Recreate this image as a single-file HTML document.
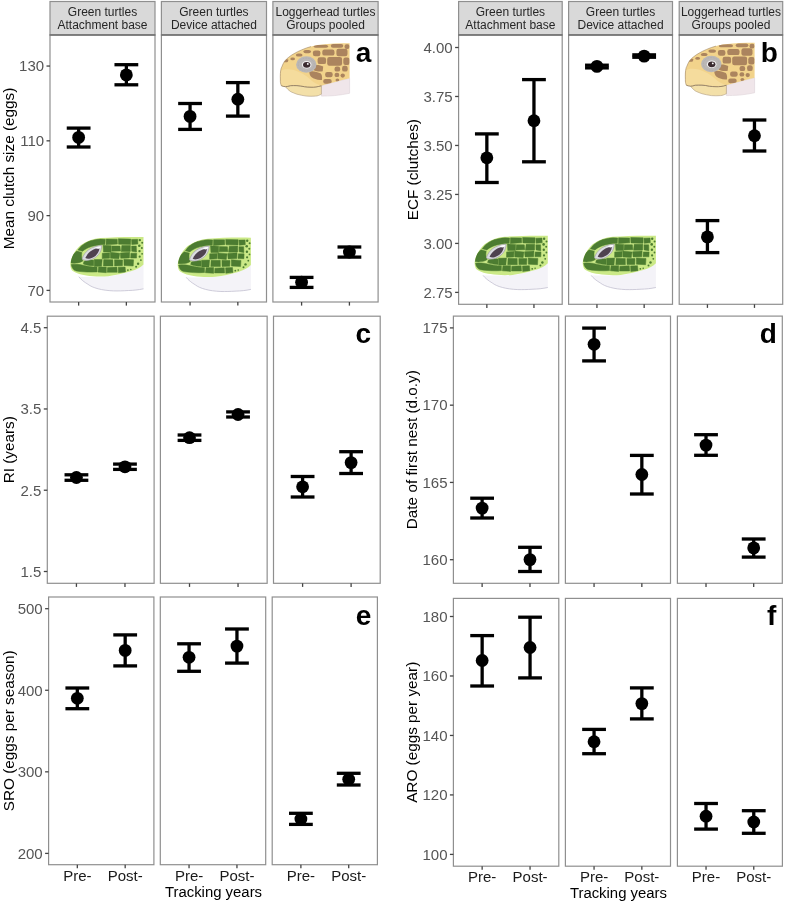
<!DOCTYPE html>
<html><head><meta charset="utf-8"><title>Turtle reproductive output</title>
<style>html,body{margin:0;padding:0;background:#fff;}body{width:785px;height:904px;overflow:hidden;}svg{display:block;}text{font-family:'Liberation Sans', Arial, Helvetica, sans-serif;}</style></head><body>
<svg width="785" height="904" viewBox="0 0 785 904">
<defs>
<clipPath id="gclip"><path d="M0,27.4 C0.6,21 4,14.5 10,9 C16,4.5 23,2.3 30,1.6 C42,0.7 58,0.3 73.2,0.6 L73.2,28 C70,31 66,33.5 60.5,34.8 C53,37 45,38.8 38,39.7 C30,40.3 22,39.9 16,38.9 C9,37.8 4,36.2 1.4,33.5 C0.3,31.5 0,29.5 0,27.4 Z"/></clipPath>
<clipPath id="lclip"><path d="M0.5,30.4 C0.8,26.5 1.2,25 1.9,23.8 C2.8,21.5 3.6,19.8 4.7,18.1 C6,16.6 7,15.5 8.5,14.4 C10.5,12.8 12,11.7 14.1,10.6 C16.5,9.2 19,7.9 21.7,6.8 C25,5.4 28,4.3 31.1,3.5 C34,2.6 37,2 40.5,1.6 C45,1 50,0.6 54.6,0.4 C60,0.2 65,0.2 69.7,0.2 L69.7,35.1 C60,37.5 50,40 41.5,42.6 C38,43.8 34,44.3 31.1,44.1 C28.5,44 26.5,43.9 24.5,43.6 C22,43.1 19.5,42.6 17,42.5 C14.5,42.4 12.5,42.5 10.4,42.6 C8.5,43 7,43.7 5.6,43.6 C4,43.5 2.6,43.2 1.4,42.6 C0.6,40.5 0.4,39 0.5,37 C0.4,34.5 0.4,32.5 0.5,30.4 Z"/></clipPath>
<symbol id="green" viewBox="0 0 75 56" width="75" height="56" overflow="visible">
<path d="M8.5,40.2 C20,40.6 34,40.6 44,39 C54,37.3 64,33.5 73.2,27.4 L73.2,52.3 C68,53.4 63,53.9 58.4,54 C52,54.4 48,54.5 43.2,54.4 C37,54.1 32,53.4 27.9,52.3 C23,51 20,49.6 17.7,47.8 C14,45.6 10.5,43 8.5,40.2 Z" fill="#f4f3f8"/>
<path d="M8.5,40.2 C10.5,43 14,45.6 17.7,47.8 C20,49.6 23,51 27.9,52.3 C32,53.4 37,54.1 43.2,54.4 C48,54.5 52,54.4 58.4,54 C63,53.9 68,53.4 73.2,52.3" fill="none" stroke="#c3c0d0" stroke-width="0.8"/>
<path d="M0,27.4 C0.6,21 4,14.5 10,9 C16,4.5 23,2.3 30,1.6 C42,0.7 58,0.3 73.2,0.6 L73.2,28 C70,31 66,33.5 60.5,34.8 C53,37 45,38.8 38,39.7 C30,40.3 22,39.9 16,38.9 C9,37.8 4,36.2 1.4,33.5 C0.3,31.5 0,29.5 0,27.4 Z" fill="#cbe987"/>
<g clip-path="url(#gclip)" fill="#4c7c31" stroke="#4c7c31" stroke-width="0.5" stroke-linejoin="round">
<path d="M0.6,26.4 C0.8,21 3,17 6.5,14.6 L11.6,16 C11,19 11.2,22 12.6,24.4 C10,26.2 5,27.2 0.6,26.4 Z"/>
<path d="M7.6,13.6 C9.6,10.4 13,7.5 17,5.5 C21,3.8 26,2.8 30.5,2.6 L35,2.8 L34.6,8 C29,8.3 23,9.2 18.5,11 C15.5,12.3 13.5,13.6 12.2,14.8 Z"/>
<path d="M0.9,28 C5,27.4 10,27.9 14,29 C17,29.9 21,30.4 26.8,30.6 L26.8,35.4 C20,35.9 12,35.5 6,34.5 C3.2,33.7 1.6,31.8 0.9,28 Z"/>
<path d="M13.6,25 C17,23.6 20.5,23.4 23.4,23.8 L23.4,29.2 C19.5,29.3 16,28.7 13,27.4 Z"/>
<path d="M35.9,2.6 L46.9,2.7 L47.1,7.6 L35.7,8.3 Z"/>
<path d="M48.0,2.3 L60.5,2.6 L60.3,8.0 L48.3,7.7 Z"/>
<path d="M61.3,3.0 L67.4,2.8 L67.6,7.6 L61.5,8.1 Z"/>
<path d="M32.8,8.7 L41.0,9.2 L40.8,15.4 L33.2,15.4 Z"/>
<path d="M41.7,9.5 L49.7,9.6 L50.2,14.6 L41.4,14.7 Z"/>
<path d="M51.5,9.1 L60.1,9.0 L60.0,14.9 L50.9,15.1 Z"/>
<path d="M61.3,9.6 L66.0,9.6 L66.2,15.5 L61.4,14.7 Z"/>
<path d="M32.0,16.7 L39.4,16.3 L39.2,21.7 L31.9,22.1 Z"/>
<path d="M40.0,15.8 L49.4,16.7 L48.6,22.3 L40.1,21.7 Z"/>
<path d="M50.0,16.5 L59.4,15.7 L59.1,21.5 L50.4,21.8 Z"/>
<path d="M60.6,16.7 L66.4,16.7 L66.2,21.6 L60.3,21.5 Z"/>
<path d="M23.9,23.1 L31.9,22.9 L31.3,29.8 L24.0,29.9 Z"/>
<path d="M33.4,23.1 L42.6,23.2 L42.7,29.5 L33.1,29.5 Z"/>
<path d="M44.2,23.2 L52.3,23.4 L52.1,29.2 L44.3,29.4 Z"/>
<path d="M53.6,22.7 L63.3,23.3 L62.9,29.5 L53.7,29.0 Z"/>
<path d="M28.3,30.6 L36.0,30.5 L36.0,36.2 L27.7,35.6 Z"/>
<path d="M37.2,31.1 L46.6,30.6 L46.9,35.8 L36.9,35.8 Z"/>
<path d="M47.9,30.7 L54.8,30.5 L55.3,35.5 L48.1,36.2 Z"/>
</g>
<g fill="#4c7c31">
<circle cx="69.5" cy="3.6" r="1.2"/><circle cx="71.9" cy="6.2" r="1"/><circle cx="69" cy="9.2" r="1.3"/>
<circle cx="71.6" cy="11.6" r="1"/><circle cx="69.2" cy="14.6" r="1.2"/><circle cx="71.8" cy="17.3" r="0.9"/>
<circle cx="69.4" cy="20.2" r="1.1"/><circle cx="70.6" cy="23.6" r="0.9"/><circle cx="67.8" cy="27.3" r="1.2"/>
<circle cx="65.8" cy="30.2" r="1"/><circle cx="57.6" cy="33.6" r="0.9"/><circle cx="60.5" cy="33" r="0.8"/>
</g>
<path d="M11.8,22.6 C14,15 21,9.5 31.5,9 C31.5,15.5 27,21.5 19,23.6 C16,24.2 13.5,23.8 11.8,22.6 Z" fill="#dcdce2" stroke="#a3a2ad" stroke-width="0.7"/>
<path d="M15,21.6 C17.5,16 22.5,12.2 29.2,11.6 C29,16.2 25.5,20.3 20,22 C18,22.5 16.3,22.3 15,21.6 Z" fill="#4f4250"/>
<path d="M24.6,11.2 C26.5,10.3 28.8,9.9 30.6,9.9 C30.3,11.4 29.1,12.3 27.6,12.3 Z" fill="#fafafc"/>
</symbol>
<symbol id="logger" viewBox="0 0 71 55" width="71" height="55" overflow="visible">
<path d="M41.5,42.6 C50,40 60,37.5 69.7,35.1 L69.7,50.2 C65,51.2 60,52 54.6,52.5 C50,52.8 45,53 41.5,53 Z" fill="#f0e6ea" stroke="#d9ccd3" stroke-width="0.5"/>
<path d="M5.6,43.6 C7,43.7 8.5,43 10.4,42.6 C14,42.3 20,42.4 24.5,43.6 C29,44.3 36,44.2 41.5,42.6 L41.5,51.1 C39,52.3 37.5,52.9 35.8,53 C32.5,53.3 29.5,53.2 26.4,53 C23,52.5 20,51.9 17,51.1 C14,50 12,49.2 10.4,48.3 C8.5,47 7.2,45.6 5.6,43.6 Z" fill="#f3e0a9" stroke="#a8957a" stroke-width="0.55"/>
<path d="M0.5,30.4 C0.8,26.5 1.2,25 1.9,23.8 C2.8,21.5 3.6,19.8 4.7,18.1 C6,16.6 7,15.5 8.5,14.4 C10.5,12.8 12,11.7 14.1,10.6 C16.5,9.2 19,7.9 21.7,6.8 C25,5.4 28,4.3 31.1,3.5 C34,2.6 37,2 40.5,1.6 C45,1 50,0.6 54.6,0.4 C60,0.2 65,0.2 69.7,0.2 L69.7,35.1 C60,37.5 50,40 41.5,42.6 C38,43.8 34,44.3 31.1,44.1 C28.5,44 26.5,43.9 24.5,43.6 C22,43.1 19.5,42.6 17,42.5 C14.5,42.4 12.5,42.5 10.4,42.6 C8.5,43 7,43.7 5.6,43.6 C4,43.5 2.6,43.2 1.4,42.6 C0.6,40.5 0.4,39 0.5,37 C0.4,34.5 0.4,32.5 0.5,30.4 Z" fill="#f2d38b"/>
<path d="M0.6,28 C3,26 8,25.5 14,27 C20,29 26,32 30,36 C33,39 37,41.5 41.5,42.6 C36,44.2 29,44.3 24.5,43.6 C20,42.4 14,42.3 10.4,42.6 C7,43.5 3,43.6 1.4,42.6 C0.5,38 0.4,32 0.6,28 Z" fill="#f5dc9d" clip-path="url(#lclip)"/>
<g clip-path="url(#lclip)" fill="#ab845e">
<rect x="33.9" y="1.6" width="14.2" height="3.0" rx="2.2"/>
<rect x="50.9" y="0.8" width="12.5" height="3.8" rx="2.2"/>
<rect x="64.6" y="1.2" width="5.1" height="4.7" rx="2.2"/>
<rect x="23.5" y="6.8" width="7.6" height="3.3" rx="2.2"/>
<rect x="16.0" y="10.3" width="6.6" height="3.2" rx="2.2"/>
<rect x="10.4" y="14.5" width="4.7" height="2.7" rx="2.2"/>
<rect x="33.0" y="7.3" width="7.5" height="5.9" rx="2.2"/>
<rect x="42.4" y="6.4" width="12.2" height="6.1" rx="2.2"/>
<rect x="56.5" y="5.6" width="11.1" height="7.6" rx="2.2"/>
<rect x="37.7" y="14.1" width="8.5" height="6.9" rx="2.2"/>
<rect x="47.3" y="13.8" width="14.9" height="8.8" rx="2.2"/>
<rect x="63.4" y="14.4" width="6.3" height="7.5" rx="2.2"/>
<rect x="54.6" y="23.4" width="5.7" height="5.1" rx="2.2"/>
<rect x="62.2" y="22.6" width="5.6" height="5.9" rx="2.2"/>
<rect x="45.2" y="28.9" width="7.6" height="5.3" rx="2.2"/>
<rect x="43.3" y="36.0" width="8.5" height="4.6" rx="2.2"/>
<rect x="54.6" y="29.6" width="4.8" height="4.4" rx="2.2"/>
<rect x="60.6" y="30.4" width="4.4" height="4.2" rx="2.2"/>
<rect x="55.6" y="35.3" width="3.8" height="3.3" rx="2.2"/>
<path d="M3.8,16.2 C5.5,15.6 7.5,15.8 8.6,16.6 L7.8,18.8 C6,19.4 4.6,19.2 3.4,18.6 Z"/>
<path d="M33.8,22.2 C37,21.6 41,22 43.3,23.5 L42.8,28.2 C39.5,28.8 36,28.2 33.6,26.8 Z"/>
<path d="M29.4,28.4 C33,27.6 37.5,28.6 41,30.5 C42.3,32.5 42.4,35 42,36.8 C38,37.3 34,36 31.5,34 C30,32.5 29.3,30.5 29.4,28.4 Z"/>
</g>
<path d="M1.4,42.6 C0.6,40.5 0.4,39 0.5,37 C0.4,34.5 0.4,32.5 0.5,30.4 C0.8,26.5 1.2,25 1.9,23.8 C2.8,21.5 3.6,19.8 4.7,18.1 C6,16.6 7,15.5 8.5,14.4 C10.5,12.8 12,11.7 14.1,10.6 C16.5,9.2 19,7.9 21.7,6.8 C25,5.4 28,4.3 31.1,3.5" fill="none" stroke="#a08462" stroke-width="0.6"/>
<path d="M1.4,42.6 C2.6,43.2 4,43.5 5.6,43.6 C7,43.7 8.5,43 10.4,42.6 C12.5,42.5 14.5,42.4 17,42.5 C19.5,42.6 22,43.1 24.5,43.6 C26.5,43.9 28.5,44 31.1,44.1 C34,44.3 38,43.8 41.5,42.6" fill="none" stroke="#7d6b58" stroke-width="0.75"/>
<ellipse cx="26.4" cy="21.4" rx="10.2" ry="8.2" fill="#bab7b6"/>
<ellipse cx="26.4" cy="21.4" rx="8" ry="6.4" fill="none" stroke="#a7a4a6" stroke-width="0.6" stroke-dasharray="0.8 0.8"/>
<ellipse cx="26.8" cy="21.7" rx="4.8" ry="3.8" fill="#f3f1f1"/>
<ellipse cx="26.8" cy="21.7" rx="3.7" ry="2.9" fill="#3a2a2e"/>
<circle cx="27.9" cy="20.8" r="0.95" fill="#ffffff"/>
</symbol>
</defs>

<rect x="0" y="0" width="785" height="904" fill="#ffffff"/>
<rect x="50" y="1.5" width="105" height="33.5" fill="#d9d9d9" stroke="#8f8f8f" stroke-width="1.2"/>
<text x="102.5" y="15.6" font-size="12" fill="#262626" text-anchor="middle">Green turtles</text>
<text x="102.5" y="28.7" font-size="12" fill="#262626" text-anchor="middle">Attachment base</text>
<rect x="50" y="35" width="105" height="267" fill="#ffffff" stroke="#8f8f8f" stroke-width="1.2"/>
<line x1="49.7" y1="35" x2="155.3" y2="35" stroke="#707070" stroke-width="1.6"/>
<line x1="78.64" y1="302" x2="78.64" y2="305.6" stroke="#444444" stroke-width="1.3"/>
<line x1="126.36" y1="302" x2="126.36" y2="305.6" stroke="#444444" stroke-width="1.3"/>
<line x1="46.5" y1="66.05" x2="50" y2="66.05" stroke="#444444" stroke-width="1.3"/>
<text x="44.1" y="71.35" font-size="15" fill="#555555" text-anchor="end">130</text>
<line x1="46.5" y1="140.83" x2="50" y2="140.83" stroke="#444444" stroke-width="1.3"/>
<text x="44.1" y="146.13" font-size="15" fill="#555555" text-anchor="end">110</text>
<line x1="46.5" y1="215.62" x2="50" y2="215.62" stroke="#444444" stroke-width="1.3"/>
<text x="44.1" y="220.92" font-size="15" fill="#555555" text-anchor="end">90</text>
<line x1="46.5" y1="290.4" x2="50" y2="290.4" stroke="#444444" stroke-width="1.3"/>
<text x="44.1" y="295.7" font-size="15" fill="#555555" text-anchor="end">70</text>
<g stroke="#000" stroke-width="3.3" fill="none">
<line x1="78.64" y1="128.1" x2="78.64" y2="147"/>
<line x1="66.74" y1="128.1" x2="90.54" y2="128.1"/>
<line x1="66.74" y1="147" x2="90.54" y2="147"/>
</g>
<circle cx="78.64" cy="137.4" r="6.4" fill="#000"/>
<g stroke="#000" stroke-width="3.3" fill="none">
<line x1="126.36" y1="64.7" x2="126.36" y2="84.8"/>
<line x1="114.46" y1="64.7" x2="138.26" y2="64.7"/>
<line x1="114.46" y1="84.8" x2="138.26" y2="84.8"/>
</g>
<circle cx="126.36" cy="74.9" r="6.4" fill="#000"/>
<rect x="161.4" y="1.5" width="105.1" height="33.5" fill="#d9d9d9" stroke="#8f8f8f" stroke-width="1.2"/>
<text x="213.95" y="15.6" font-size="12" fill="#262626" text-anchor="middle">Green turtles</text>
<text x="213.95" y="28.7" font-size="12" fill="#262626" text-anchor="middle">Device attached</text>
<rect x="161.4" y="35" width="105.1" height="267" fill="#ffffff" stroke="#8f8f8f" stroke-width="1.2"/>
<line x1="161.1" y1="35" x2="266.8" y2="35" stroke="#707070" stroke-width="1.6"/>
<line x1="190.06" y1="302" x2="190.06" y2="305.6" stroke="#444444" stroke-width="1.3"/>
<line x1="237.84" y1="302" x2="237.84" y2="305.6" stroke="#444444" stroke-width="1.3"/>
<g stroke="#000" stroke-width="3.3" fill="none">
<line x1="190.06" y1="103.5" x2="190.06" y2="129.4"/>
<line x1="178.16" y1="103.5" x2="201.96" y2="103.5"/>
<line x1="178.16" y1="129.4" x2="201.96" y2="129.4"/>
</g>
<circle cx="190.06" cy="116.4" r="6.4" fill="#000"/>
<g stroke="#000" stroke-width="3.3" fill="none">
<line x1="237.84" y1="82.6" x2="237.84" y2="116.1"/>
<line x1="225.94" y1="82.6" x2="249.74" y2="82.6"/>
<line x1="225.94" y1="116.1" x2="249.74" y2="116.1"/>
</g>
<circle cx="237.84" cy="99.2" r="6.4" fill="#000"/>
<rect x="272.9" y="1.5" width="105.2" height="33.5" fill="#d9d9d9" stroke="#8f8f8f" stroke-width="1.2"/>
<text x="325.5" y="15.6" font-size="12" fill="#262626" text-anchor="middle">Loggerhead turtles</text>
<text x="325.5" y="28.7" font-size="12" fill="#262626" text-anchor="middle">Groups pooled</text>
<rect x="272.9" y="35" width="105.2" height="267" fill="#ffffff" stroke="#8f8f8f" stroke-width="1.2"/>
<line x1="272.6" y1="35" x2="378.4" y2="35" stroke="#707070" stroke-width="1.6"/>
<line x1="301.59" y1="302" x2="301.59" y2="305.6" stroke="#444444" stroke-width="1.3"/>
<line x1="349.41" y1="302" x2="349.41" y2="305.6" stroke="#444444" stroke-width="1.3"/>
<g stroke="#000" stroke-width="3.3" fill="none">
<line x1="301.59" y1="277.4" x2="301.59" y2="287.4"/>
<line x1="289.69" y1="277.4" x2="313.49" y2="277.4"/>
<line x1="289.69" y1="287.4" x2="313.49" y2="287.4"/>
</g>
<circle cx="301.59" cy="282.2" r="6.4" fill="#000"/>
<g stroke="#000" stroke-width="3.3" fill="none">
<line x1="349.41" y1="247" x2="349.41" y2="257.1"/>
<line x1="337.51" y1="247" x2="361.31" y2="247"/>
<line x1="337.51" y1="257.1" x2="361.31" y2="257.1"/>
</g>
<circle cx="349.41" cy="252" r="6.4" fill="#000"/>
<text transform="translate(13.6,168.5) rotate(-90)" font-size="15.3" fill="#000" text-anchor="middle">Mean clutch size (eggs)</text>
<text x="371.3" y="61.8" font-size="28" font-weight="bold" fill="#000" text-anchor="end">a</text>
<rect x="458.6" y="1.5" width="103.6" height="33.5" fill="#d9d9d9" stroke="#8f8f8f" stroke-width="1.2"/>
<text x="510.4" y="15.6" font-size="12" fill="#262626" text-anchor="middle">Green turtles</text>
<text x="510.4" y="28.7" font-size="12" fill="#262626" text-anchor="middle">Attachment base</text>
<rect x="458.6" y="35" width="103.6" height="269.3" fill="#ffffff" stroke="#8f8f8f" stroke-width="1.2"/>
<line x1="458.3" y1="35" x2="562.5" y2="35" stroke="#707070" stroke-width="1.6"/>
<line x1="486.85" y1="304.3" x2="486.85" y2="307.9" stroke="#444444" stroke-width="1.3"/>
<line x1="533.95" y1="304.3" x2="533.95" y2="307.9" stroke="#444444" stroke-width="1.3"/>
<line x1="455.1" y1="47.5" x2="458.6" y2="47.5" stroke="#444444" stroke-width="1.3"/>
<text x="452.7" y="52.8" font-size="15" fill="#555555" text-anchor="end">4.00</text>
<line x1="455.1" y1="96.48" x2="458.6" y2="96.48" stroke="#444444" stroke-width="1.3"/>
<text x="452.7" y="101.78" font-size="15" fill="#555555" text-anchor="end">3.75</text>
<line x1="455.1" y1="145.46" x2="458.6" y2="145.46" stroke="#444444" stroke-width="1.3"/>
<text x="452.7" y="150.76" font-size="15" fill="#555555" text-anchor="end">3.50</text>
<line x1="455.1" y1="194.44" x2="458.6" y2="194.44" stroke="#444444" stroke-width="1.3"/>
<text x="452.7" y="199.74" font-size="15" fill="#555555" text-anchor="end">3.25</text>
<line x1="455.1" y1="243.42" x2="458.6" y2="243.42" stroke="#444444" stroke-width="1.3"/>
<text x="452.7" y="248.72" font-size="15" fill="#555555" text-anchor="end">3.00</text>
<line x1="455.1" y1="292.4" x2="458.6" y2="292.4" stroke="#444444" stroke-width="1.3"/>
<text x="452.7" y="297.7" font-size="15" fill="#555555" text-anchor="end">2.75</text>
<g stroke="#000" stroke-width="3.3" fill="none">
<line x1="486.85" y1="133.9" x2="486.85" y2="182.5"/>
<line x1="474.95" y1="133.9" x2="498.75" y2="133.9"/>
<line x1="474.95" y1="182.5" x2="498.75" y2="182.5"/>
</g>
<circle cx="486.85" cy="157.8" r="6.4" fill="#000"/>
<g stroke="#000" stroke-width="3.3" fill="none">
<line x1="533.95" y1="79.6" x2="533.95" y2="161.8"/>
<line x1="522.05" y1="79.6" x2="545.85" y2="79.6"/>
<line x1="522.05" y1="161.8" x2="545.85" y2="161.8"/>
</g>
<circle cx="533.95" cy="120.7" r="6.4" fill="#000"/>
<rect x="568.6" y="1.5" width="103.9" height="33.5" fill="#d9d9d9" stroke="#8f8f8f" stroke-width="1.2"/>
<text x="620.55" y="15.6" font-size="12" fill="#262626" text-anchor="middle">Green turtles</text>
<text x="620.55" y="28.7" font-size="12" fill="#262626" text-anchor="middle">Device attached</text>
<rect x="568.6" y="35" width="103.9" height="269.3" fill="#ffffff" stroke="#8f8f8f" stroke-width="1.2"/>
<line x1="568.3" y1="35" x2="672.8" y2="35" stroke="#707070" stroke-width="1.6"/>
<line x1="596.94" y1="304.3" x2="596.94" y2="307.9" stroke="#444444" stroke-width="1.3"/>
<line x1="644.16" y1="304.3" x2="644.16" y2="307.9" stroke="#444444" stroke-width="1.3"/>
<g stroke="#000" stroke-width="3.3" fill="none">
<line x1="596.94" y1="65.2" x2="596.94" y2="67.9"/>
<line x1="585.04" y1="65.2" x2="608.84" y2="65.2"/>
<line x1="585.04" y1="67.9" x2="608.84" y2="67.9"/>
</g>
<circle cx="596.94" cy="66.4" r="6.4" fill="#000"/>
<g stroke="#000" stroke-width="3.3" fill="none">
<line x1="644.16" y1="54.85" x2="644.16" y2="57.25"/>
<line x1="632.26" y1="54.85" x2="656.06" y2="54.85"/>
<line x1="632.26" y1="57.25" x2="656.06" y2="57.25"/>
</g>
<circle cx="644.16" cy="56.1" r="6.4" fill="#000"/>
<rect x="679.2" y="1.5" width="103.5" height="33.5" fill="#d9d9d9" stroke="#8f8f8f" stroke-width="1.2"/>
<text x="730.95" y="15.6" font-size="12" fill="#262626" text-anchor="middle">Loggerhead turtles</text>
<text x="730.95" y="28.7" font-size="12" fill="#262626" text-anchor="middle">Groups pooled</text>
<rect x="679.2" y="35" width="103.5" height="269.3" fill="#ffffff" stroke="#8f8f8f" stroke-width="1.2"/>
<line x1="678.9" y1="35" x2="783" y2="35" stroke="#707070" stroke-width="1.6"/>
<line x1="707.43" y1="304.3" x2="707.43" y2="307.9" stroke="#444444" stroke-width="1.3"/>
<line x1="754.47" y1="304.3" x2="754.47" y2="307.9" stroke="#444444" stroke-width="1.3"/>
<g stroke="#000" stroke-width="3.3" fill="none">
<line x1="707.43" y1="220.6" x2="707.43" y2="252.6"/>
<line x1="695.53" y1="220.6" x2="719.33" y2="220.6"/>
<line x1="695.53" y1="252.6" x2="719.33" y2="252.6"/>
</g>
<circle cx="707.43" cy="236.9" r="6.4" fill="#000"/>
<g stroke="#000" stroke-width="3.3" fill="none">
<line x1="754.47" y1="120" x2="754.47" y2="151"/>
<line x1="742.57" y1="120" x2="766.37" y2="120"/>
<line x1="742.57" y1="151" x2="766.37" y2="151"/>
</g>
<circle cx="754.47" cy="135.7" r="6.4" fill="#000"/>
<text transform="translate(418.3,169.65) rotate(-90)" font-size="15.3" fill="#000" text-anchor="middle">ECF (clutches)</text>
<text x="777.8" y="61.7" font-size="28" font-weight="bold" fill="#000" text-anchor="end">b</text>
<rect x="47.3" y="316.2" width="106.8" height="267.1" fill="#ffffff" stroke="#8f8f8f" stroke-width="1.2"/>
<line x1="76.43" y1="583.3" x2="76.43" y2="586.9" stroke="#444444" stroke-width="1.3"/>
<line x1="124.97" y1="583.3" x2="124.97" y2="586.9" stroke="#444444" stroke-width="1.3"/>
<line x1="43.8" y1="327.7" x2="47.3" y2="327.7" stroke="#444444" stroke-width="1.3"/>
<text x="41.4" y="333" font-size="15" fill="#555555" text-anchor="end">4.5</text>
<line x1="43.8" y1="408.97" x2="47.3" y2="408.97" stroke="#444444" stroke-width="1.3"/>
<text x="41.4" y="414.27" font-size="15" fill="#555555" text-anchor="end">3.5</text>
<line x1="43.8" y1="490.23" x2="47.3" y2="490.23" stroke="#444444" stroke-width="1.3"/>
<text x="41.4" y="495.53" font-size="15" fill="#555555" text-anchor="end">2.5</text>
<line x1="43.8" y1="571.5" x2="47.3" y2="571.5" stroke="#444444" stroke-width="1.3"/>
<text x="41.4" y="576.8" font-size="15" fill="#555555" text-anchor="end">1.5</text>
<g stroke="#000" stroke-width="3.3" fill="none">
<line x1="76.43" y1="474.8" x2="76.43" y2="480.3"/>
<line x1="64.53" y1="474.8" x2="88.33" y2="474.8"/>
<line x1="64.53" y1="480.3" x2="88.33" y2="480.3"/>
</g>
<circle cx="76.43" cy="477.5" r="6.4" fill="#000"/>
<g stroke="#000" stroke-width="3.3" fill="none">
<line x1="124.97" y1="464.1" x2="124.97" y2="469.4"/>
<line x1="113.07" y1="464.1" x2="136.87" y2="464.1"/>
<line x1="113.07" y1="469.4" x2="136.87" y2="469.4"/>
</g>
<circle cx="124.97" cy="466.8" r="6.4" fill="#000"/>
<rect x="160.4" y="316.2" width="106.75" height="267.1" fill="#ffffff" stroke="#8f8f8f" stroke-width="1.2"/>
<line x1="189.51" y1="583.3" x2="189.51" y2="586.9" stroke="#444444" stroke-width="1.3"/>
<line x1="238.04" y1="583.3" x2="238.04" y2="586.9" stroke="#444444" stroke-width="1.3"/>
<g stroke="#000" stroke-width="3.3" fill="none">
<line x1="189.51" y1="435" x2="189.51" y2="440.4"/>
<line x1="177.61" y1="435" x2="201.41" y2="435"/>
<line x1="177.61" y1="440.4" x2="201.41" y2="440.4"/>
</g>
<circle cx="189.51" cy="437.7" r="6.4" fill="#000"/>
<g stroke="#000" stroke-width="3.3" fill="none">
<line x1="238.04" y1="411.9" x2="238.04" y2="417"/>
<line x1="226.14" y1="411.9" x2="249.94" y2="411.9"/>
<line x1="226.14" y1="417" x2="249.94" y2="417"/>
</g>
<circle cx="238.04" cy="414.5" r="6.4" fill="#000"/>
<rect x="273.5" y="316.2" width="106.7" height="267.1" fill="#ffffff" stroke="#8f8f8f" stroke-width="1.2"/>
<line x1="302.6" y1="583.3" x2="302.6" y2="586.9" stroke="#444444" stroke-width="1.3"/>
<line x1="351.1" y1="583.3" x2="351.1" y2="586.9" stroke="#444444" stroke-width="1.3"/>
<g stroke="#000" stroke-width="3.3" fill="none">
<line x1="302.6" y1="476.5" x2="302.6" y2="497"/>
<line x1="290.7" y1="476.5" x2="314.5" y2="476.5"/>
<line x1="290.7" y1="497" x2="314.5" y2="497"/>
</g>
<circle cx="302.6" cy="486.8" r="6.4" fill="#000"/>
<g stroke="#000" stroke-width="3.3" fill="none">
<line x1="351.1" y1="451.7" x2="351.1" y2="473.5"/>
<line x1="339.2" y1="451.7" x2="363" y2="451.7"/>
<line x1="339.2" y1="473.5" x2="363" y2="473.5"/>
</g>
<circle cx="351.1" cy="462.6" r="6.4" fill="#000"/>
<text transform="translate(13.9,449.75) rotate(-90)" font-size="15.3" fill="#000" text-anchor="middle">RI (years)</text>
<text x="371.2" y="343.2" font-size="28" font-weight="bold" fill="#000" text-anchor="end">c</text>
<rect x="453.4" y="316.1" width="105.3" height="267.2" fill="#ffffff" stroke="#8f8f8f" stroke-width="1.2"/>
<line x1="482.12" y1="583.3" x2="482.12" y2="586.9" stroke="#444444" stroke-width="1.3"/>
<line x1="529.98" y1="583.3" x2="529.98" y2="586.9" stroke="#444444" stroke-width="1.3"/>
<line x1="449.9" y1="327.9" x2="453.4" y2="327.9" stroke="#444444" stroke-width="1.3"/>
<text x="447.5" y="333.2" font-size="15" fill="#555555" text-anchor="end">175</text>
<line x1="449.9" y1="405.17" x2="453.4" y2="405.17" stroke="#444444" stroke-width="1.3"/>
<text x="447.5" y="410.47" font-size="15" fill="#555555" text-anchor="end">170</text>
<line x1="449.9" y1="482.43" x2="453.4" y2="482.43" stroke="#444444" stroke-width="1.3"/>
<text x="447.5" y="487.73" font-size="15" fill="#555555" text-anchor="end">165</text>
<line x1="449.9" y1="559.7" x2="453.4" y2="559.7" stroke="#444444" stroke-width="1.3"/>
<text x="447.5" y="565" font-size="15" fill="#555555" text-anchor="end">160</text>
<g stroke="#000" stroke-width="3.3" fill="none">
<line x1="482.12" y1="498.2" x2="482.12" y2="518"/>
<line x1="470.22" y1="498.2" x2="494.02" y2="498.2"/>
<line x1="470.22" y1="518" x2="494.02" y2="518"/>
</g>
<circle cx="482.12" cy="508.1" r="6.4" fill="#000"/>
<g stroke="#000" stroke-width="3.3" fill="none">
<line x1="529.98" y1="547.3" x2="529.98" y2="571.5"/>
<line x1="518.08" y1="547.3" x2="541.88" y2="547.3"/>
<line x1="518.08" y1="571.5" x2="541.88" y2="571.5"/>
</g>
<circle cx="529.98" cy="559.6" r="6.4" fill="#000"/>
<rect x="565.4" y="316.1" width="105.1" height="267.2" fill="#ffffff" stroke="#8f8f8f" stroke-width="1.2"/>
<line x1="594.06" y1="583.3" x2="594.06" y2="586.9" stroke="#444444" stroke-width="1.3"/>
<line x1="641.84" y1="583.3" x2="641.84" y2="586.9" stroke="#444444" stroke-width="1.3"/>
<g stroke="#000" stroke-width="3.3" fill="none">
<line x1="594.06" y1="328.1" x2="594.06" y2="360.9"/>
<line x1="582.16" y1="328.1" x2="605.96" y2="328.1"/>
<line x1="582.16" y1="360.9" x2="605.96" y2="360.9"/>
</g>
<circle cx="594.06" cy="344.3" r="6.4" fill="#000"/>
<g stroke="#000" stroke-width="3.3" fill="none">
<line x1="641.84" y1="455.4" x2="641.84" y2="494"/>
<line x1="629.94" y1="455.4" x2="653.74" y2="455.4"/>
<line x1="629.94" y1="494" x2="653.74" y2="494"/>
</g>
<circle cx="641.84" cy="474.5" r="6.4" fill="#000"/>
<rect x="677.4" y="316.1" width="104.9" height="267.2" fill="#ffffff" stroke="#8f8f8f" stroke-width="1.2"/>
<line x1="706.01" y1="583.3" x2="706.01" y2="586.9" stroke="#444444" stroke-width="1.3"/>
<line x1="753.69" y1="583.3" x2="753.69" y2="586.9" stroke="#444444" stroke-width="1.3"/>
<g stroke="#000" stroke-width="3.3" fill="none">
<line x1="706.01" y1="434.7" x2="706.01" y2="455.3"/>
<line x1="694.11" y1="434.7" x2="717.91" y2="434.7"/>
<line x1="694.11" y1="455.3" x2="717.91" y2="455.3"/>
</g>
<circle cx="706.01" cy="445.1" r="6.4" fill="#000"/>
<g stroke="#000" stroke-width="3.3" fill="none">
<line x1="753.69" y1="539" x2="753.69" y2="557.1"/>
<line x1="741.79" y1="539" x2="765.59" y2="539"/>
<line x1="741.79" y1="557.1" x2="765.59" y2="557.1"/>
</g>
<circle cx="753.69" cy="547.9" r="6.4" fill="#000"/>
<text transform="translate(416.5,449.7) rotate(-90)" font-size="15.3" fill="#000" text-anchor="middle">Date of first nest (d.o.y)</text>
<text x="776.9" y="342.8" font-size="28" font-weight="bold" fill="#000" text-anchor="end">d</text>
<rect x="48.6" y="597" width="105.3" height="267.7" fill="#ffffff" stroke="#8f8f8f" stroke-width="1.2"/>
<line x1="77.32" y1="864.7" x2="77.32" y2="868.3" stroke="#444444" stroke-width="1.3"/>
<line x1="125.18" y1="864.7" x2="125.18" y2="868.3" stroke="#444444" stroke-width="1.3"/>
<text x="77.32" y="880.8" font-size="15" fill="#1a1a1a" text-anchor="middle">Pre-</text>
<text x="125.18" y="880.8" font-size="15" fill="#1a1a1a" text-anchor="middle">Post-</text>
<line x1="45.1" y1="608.7" x2="48.6" y2="608.7" stroke="#444444" stroke-width="1.3"/>
<text x="42.7" y="614" font-size="15" fill="#555555" text-anchor="end">500</text>
<line x1="45.1" y1="690.27" x2="48.6" y2="690.27" stroke="#444444" stroke-width="1.3"/>
<text x="42.7" y="695.57" font-size="15" fill="#555555" text-anchor="end">400</text>
<line x1="45.1" y1="771.83" x2="48.6" y2="771.83" stroke="#444444" stroke-width="1.3"/>
<text x="42.7" y="777.13" font-size="15" fill="#555555" text-anchor="end">300</text>
<line x1="45.1" y1="853.4" x2="48.6" y2="853.4" stroke="#444444" stroke-width="1.3"/>
<text x="42.7" y="858.7" font-size="15" fill="#555555" text-anchor="end">200</text>
<g stroke="#000" stroke-width="3.3" fill="none">
<line x1="77.32" y1="688" x2="77.32" y2="708.7"/>
<line x1="65.42" y1="688" x2="89.22" y2="688"/>
<line x1="65.42" y1="708.7" x2="89.22" y2="708.7"/>
</g>
<circle cx="77.32" cy="698.3" r="6.4" fill="#000"/>
<g stroke="#000" stroke-width="3.3" fill="none">
<line x1="125.18" y1="634.9" x2="125.18" y2="665.9"/>
<line x1="113.28" y1="634.9" x2="137.08" y2="634.9"/>
<line x1="113.28" y1="665.9" x2="137.08" y2="665.9"/>
</g>
<circle cx="125.18" cy="650.4" r="6.4" fill="#000"/>
<rect x="160.3" y="597" width="105.4" height="267.7" fill="#ffffff" stroke="#8f8f8f" stroke-width="1.2"/>
<line x1="189.05" y1="864.7" x2="189.05" y2="868.3" stroke="#444444" stroke-width="1.3"/>
<line x1="236.95" y1="864.7" x2="236.95" y2="868.3" stroke="#444444" stroke-width="1.3"/>
<text x="189.05" y="880.8" font-size="15" fill="#1a1a1a" text-anchor="middle">Pre-</text>
<text x="236.95" y="880.8" font-size="15" fill="#1a1a1a" text-anchor="middle">Post-</text>
<text x="213.5" y="896.9" font-size="14.9" fill="#000" text-anchor="middle">Tracking years</text>
<g stroke="#000" stroke-width="3.3" fill="none">
<line x1="189.05" y1="643.8" x2="189.05" y2="671.3"/>
<line x1="177.15" y1="643.8" x2="200.95" y2="643.8"/>
<line x1="177.15" y1="671.3" x2="200.95" y2="671.3"/>
</g>
<circle cx="189.05" cy="657.3" r="6.4" fill="#000"/>
<g stroke="#000" stroke-width="3.3" fill="none">
<line x1="236.95" y1="629" x2="236.95" y2="663.1"/>
<line x1="225.05" y1="629" x2="248.85" y2="629"/>
<line x1="225.05" y1="663.1" x2="248.85" y2="663.1"/>
</g>
<circle cx="236.95" cy="646.1" r="6.4" fill="#000"/>
<rect x="272.2" y="597" width="105.2" height="267.7" fill="#ffffff" stroke="#8f8f8f" stroke-width="1.2"/>
<line x1="300.89" y1="864.7" x2="300.89" y2="868.3" stroke="#444444" stroke-width="1.3"/>
<line x1="348.71" y1="864.7" x2="348.71" y2="868.3" stroke="#444444" stroke-width="1.3"/>
<text x="300.89" y="880.8" font-size="15" fill="#1a1a1a" text-anchor="middle">Pre-</text>
<text x="348.71" y="880.8" font-size="15" fill="#1a1a1a" text-anchor="middle">Post-</text>
<g stroke="#000" stroke-width="3.3" fill="none">
<line x1="300.89" y1="813.3" x2="300.89" y2="824.4"/>
<line x1="288.99" y1="813.3" x2="312.79" y2="813.3"/>
<line x1="288.99" y1="824.4" x2="312.79" y2="824.4"/>
</g>
<circle cx="300.89" cy="819.1" r="6.4" fill="#000"/>
<g stroke="#000" stroke-width="3.3" fill="none">
<line x1="348.71" y1="773.3" x2="348.71" y2="785"/>
<line x1="336.81" y1="773.3" x2="360.61" y2="773.3"/>
<line x1="336.81" y1="785" x2="360.61" y2="785"/>
</g>
<circle cx="348.71" cy="779.3" r="6.4" fill="#000"/>
<text transform="translate(13.9,730.85) rotate(-90)" font-size="15.3" fill="#000" text-anchor="middle">SRO (eggs per season)</text>
<text x="371.3" y="625.3" font-size="28" font-weight="bold" fill="#000" text-anchor="end">e</text>
<rect x="453.4" y="598.4" width="105.4" height="267.8" fill="#ffffff" stroke="#8f8f8f" stroke-width="1.2"/>
<line x1="482.15" y1="866.2" x2="482.15" y2="869.8" stroke="#444444" stroke-width="1.3"/>
<line x1="530.05" y1="866.2" x2="530.05" y2="869.8" stroke="#444444" stroke-width="1.3"/>
<text x="482.15" y="882.3" font-size="15" fill="#1a1a1a" text-anchor="middle">Pre-</text>
<text x="530.05" y="882.3" font-size="15" fill="#1a1a1a" text-anchor="middle">Post-</text>
<line x1="449.9" y1="616.5" x2="453.4" y2="616.5" stroke="#444444" stroke-width="1.3"/>
<text x="447.5" y="621.8" font-size="15" fill="#555555" text-anchor="end">180</text>
<line x1="449.9" y1="675.98" x2="453.4" y2="675.98" stroke="#444444" stroke-width="1.3"/>
<text x="447.5" y="681.27" font-size="15" fill="#555555" text-anchor="end">160</text>
<line x1="449.9" y1="735.45" x2="453.4" y2="735.45" stroke="#444444" stroke-width="1.3"/>
<text x="447.5" y="740.75" font-size="15" fill="#555555" text-anchor="end">140</text>
<line x1="449.9" y1="794.92" x2="453.4" y2="794.92" stroke="#444444" stroke-width="1.3"/>
<text x="447.5" y="800.22" font-size="15" fill="#555555" text-anchor="end">120</text>
<line x1="449.9" y1="854.4" x2="453.4" y2="854.4" stroke="#444444" stroke-width="1.3"/>
<text x="447.5" y="859.7" font-size="15" fill="#555555" text-anchor="end">100</text>
<g stroke="#000" stroke-width="3.3" fill="none">
<line x1="482.15" y1="635.6" x2="482.15" y2="686"/>
<line x1="470.25" y1="635.6" x2="494.05" y2="635.6"/>
<line x1="470.25" y1="686" x2="494.05" y2="686"/>
</g>
<circle cx="482.15" cy="660.5" r="6.4" fill="#000"/>
<g stroke="#000" stroke-width="3.3" fill="none">
<line x1="530.05" y1="617.2" x2="530.05" y2="677.9"/>
<line x1="518.15" y1="617.2" x2="541.95" y2="617.2"/>
<line x1="518.15" y1="677.9" x2="541.95" y2="677.9"/>
</g>
<circle cx="530.05" cy="647.5" r="6.4" fill="#000"/>
<rect x="565.4" y="598.4" width="105.1" height="267.8" fill="#ffffff" stroke="#8f8f8f" stroke-width="1.2"/>
<line x1="594.06" y1="866.2" x2="594.06" y2="869.8" stroke="#444444" stroke-width="1.3"/>
<line x1="641.84" y1="866.2" x2="641.84" y2="869.8" stroke="#444444" stroke-width="1.3"/>
<text x="594.06" y="882.3" font-size="15" fill="#1a1a1a" text-anchor="middle">Pre-</text>
<text x="641.84" y="882.3" font-size="15" fill="#1a1a1a" text-anchor="middle">Post-</text>
<text x="618.45" y="898.4" font-size="14.9" fill="#000" text-anchor="middle">Tracking years</text>
<g stroke="#000" stroke-width="3.3" fill="none">
<line x1="594.06" y1="729.4" x2="594.06" y2="753.7"/>
<line x1="582.16" y1="729.4" x2="605.96" y2="729.4"/>
<line x1="582.16" y1="753.7" x2="605.96" y2="753.7"/>
</g>
<circle cx="594.06" cy="741.7" r="6.4" fill="#000"/>
<g stroke="#000" stroke-width="3.3" fill="none">
<line x1="641.84" y1="687.9" x2="641.84" y2="718.9"/>
<line x1="629.94" y1="687.9" x2="653.74" y2="687.9"/>
<line x1="629.94" y1="718.9" x2="653.74" y2="718.9"/>
</g>
<circle cx="641.84" cy="703.6" r="6.4" fill="#000"/>
<rect x="677.4" y="598.4" width="105" height="267.8" fill="#ffffff" stroke="#8f8f8f" stroke-width="1.2"/>
<line x1="706.04" y1="866.2" x2="706.04" y2="869.8" stroke="#444444" stroke-width="1.3"/>
<line x1="753.76" y1="866.2" x2="753.76" y2="869.8" stroke="#444444" stroke-width="1.3"/>
<text x="706.04" y="882.3" font-size="15" fill="#1a1a1a" text-anchor="middle">Pre-</text>
<text x="753.76" y="882.3" font-size="15" fill="#1a1a1a" text-anchor="middle">Post-</text>
<g stroke="#000" stroke-width="3.3" fill="none">
<line x1="706.04" y1="803.5" x2="706.04" y2="829.1"/>
<line x1="694.14" y1="803.5" x2="717.94" y2="803.5"/>
<line x1="694.14" y1="829.1" x2="717.94" y2="829.1"/>
</g>
<circle cx="706.04" cy="816.2" r="6.4" fill="#000"/>
<g stroke="#000" stroke-width="3.3" fill="none">
<line x1="753.76" y1="810.7" x2="753.76" y2="833.3"/>
<line x1="741.86" y1="810.7" x2="765.66" y2="810.7"/>
<line x1="741.86" y1="833.3" x2="765.66" y2="833.3"/>
</g>
<circle cx="753.76" cy="822" r="6.4" fill="#000"/>
<text transform="translate(416.5,732.3) rotate(-90)" font-size="15.3" fill="#000" text-anchor="middle">ARO (eggs per year)</text>
<text x="776.3" y="625.2" font-size="28" font-weight="bold" fill="#000" text-anchor="end">f</text>
<use href="#green" x="70.3" y="236.5"/>
<use href="#green" x="177.7" y="237.1"/>
<use href="#green" x="474.6" y="235.2"/>
<use href="#green" x="582.7" y="235.2"/>
<use href="#logger" x="279.9" y="43.1"/>
<use href="#logger" x="684.9" y="42.6"/>
</svg></body></html>
